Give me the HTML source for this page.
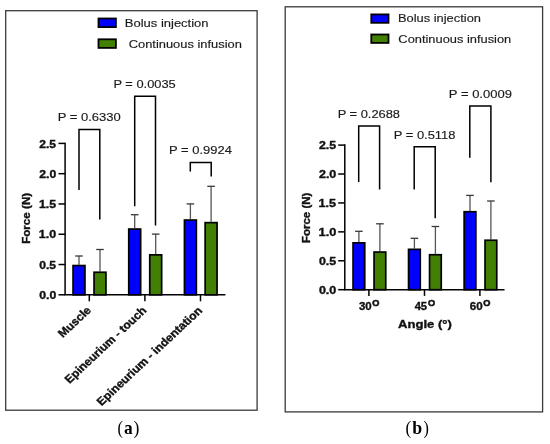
<!DOCTYPE html>
<html><head><meta charset="utf-8"><style>
html,body{margin:0;padding:0;background:#fff;}
svg{display:block;filter:blur(0.3px);}
text{font-family:"Liberation Sans",Arial,sans-serif;}
.b{stroke:#111;stroke-width:0.35px;}
.b2{stroke:#111;stroke-width:0.6px;}
.r{stroke:#1a1a1a;stroke-width:0.15px;}
.cap{font-family:"Liberation Serif",serif;}
</style></head><body>
<svg width="550" height="444" viewBox="0 0 550 444">
<rect x="0" y="0" width="550" height="444" fill="#fff"/>
<rect x="5.7" y="10.7" width="251.4" height="399.5" fill="none" stroke="#3a3a3a" stroke-width="1.3"/>
<rect x="285.2" y="6.8" width="257.4" height="405.1" fill="none" stroke="#3a3a3a" stroke-width="1.3"/>
<path d="M65.1 142.65 V294.8" stroke="#000" stroke-width="1.5" fill="none"/>
<path d="M64.35 294.8 H225.4" stroke="#000" stroke-width="1.5" fill="none"/>
<path d="M58.5 294.80 H65.1" stroke="#000" stroke-width="1.5"/>
<text x="39.21" y="299.00" font-size="10.2" font-weight="bold" textLength="16.98" lengthAdjust="spacingAndGlyphs" fill="#111"  class="b">0.0</text>
<path d="M58.5 264.52 H65.1" stroke="#000" stroke-width="1.5"/>
<text x="39.22" y="268.72" font-size="10.2" font-weight="bold" textLength="16.79" lengthAdjust="spacingAndGlyphs" fill="#111"  class="b">0.5</text>
<path d="M58.5 234.24 H65.1" stroke="#000" stroke-width="1.5"/>
<text x="38.89" y="238.44" font-size="10.2" font-weight="bold" textLength="17.31" lengthAdjust="spacingAndGlyphs" fill="#111"  class="b">1.0</text>
<path d="M58.5 203.96 H65.1" stroke="#000" stroke-width="1.5"/>
<text x="38.90" y="208.16" font-size="10.2" font-weight="bold" textLength="17.11" lengthAdjust="spacingAndGlyphs" fill="#111"  class="b">1.5</text>
<path d="M58.5 173.68 H65.1" stroke="#000" stroke-width="1.5"/>
<text x="39.27" y="177.88" font-size="10.2" font-weight="bold" textLength="16.91" lengthAdjust="spacingAndGlyphs" fill="#111"  class="b">2.0</text>
<path d="M58.5 143.40 H65.1" stroke="#000" stroke-width="1.5"/>
<text x="39.28" y="147.60" font-size="10.2" font-weight="bold" textLength="16.72" lengthAdjust="spacingAndGlyphs" fill="#111"  class="b">2.5</text>
<path d="M89.3 294.8 V301.3" stroke="#000" stroke-width="1.5"/>
<path d="M144.9 294.8 V301.3" stroke="#000" stroke-width="1.5"/>
<path d="M200.5 294.8 V301.3" stroke="#000" stroke-width="1.5"/>
<path d="M79.00 264.70 V256.00" stroke="#555" stroke-width="1.3" fill="none"/>
<path d="M75.20 256.00 H82.80" stroke="#383838" stroke-width="1.3" fill="none"/>
<rect x="73.05" y="265.55" width="11.90" height="29.25" fill="#0000ff" stroke="#000" stroke-width="1.7"/>
<path d="M100.00 271.40 V249.50" stroke="#555" stroke-width="1.3" fill="none"/>
<path d="M96.20 249.50 H103.80" stroke="#383838" stroke-width="1.3" fill="none"/>
<rect x="94.05" y="272.25" width="11.90" height="22.55" fill="#418003" stroke="#000" stroke-width="1.7"/>
<path d="M134.70 228.20 V214.70" stroke="#555" stroke-width="1.3" fill="none"/>
<path d="M130.90 214.70 H138.50" stroke="#383838" stroke-width="1.3" fill="none"/>
<rect x="128.75" y="229.05" width="11.90" height="65.75" fill="#0000ff" stroke="#000" stroke-width="1.7"/>
<path d="M155.70 254.00 V234.10" stroke="#555" stroke-width="1.3" fill="none"/>
<path d="M151.90 234.10 H159.50" stroke="#383838" stroke-width="1.3" fill="none"/>
<rect x="149.75" y="254.85" width="11.90" height="39.95" fill="#418003" stroke="#000" stroke-width="1.7"/>
<path d="M190.40 219.20 V203.90" stroke="#555" stroke-width="1.3" fill="none"/>
<path d="M186.60 203.90 H194.20" stroke="#383838" stroke-width="1.3" fill="none"/>
<rect x="184.45" y="220.05" width="11.90" height="74.75" fill="#0000ff" stroke="#000" stroke-width="1.7"/>
<path d="M211.10 221.80 V186.30" stroke="#555" stroke-width="1.3" fill="none"/>
<path d="M207.30 186.30 H214.90" stroke="#383838" stroke-width="1.3" fill="none"/>
<rect x="205.15" y="222.65" width="11.90" height="72.15" fill="#418003" stroke="#000" stroke-width="1.7"/>
<path d="M79.0 190.0 V129.5 H99.8 V219.6" stroke="#000" stroke-width="1.5" fill="none"/>
<path d="M134.7 206.3 V96.3 H155.5 V225.4" stroke="#000" stroke-width="1.5" fill="none"/>
<path d="M190.3 171.4 V162.5 H211.2 V176.5" stroke="#000" stroke-width="1.5" fill="none"/>
<text x="57.76" y="121.20" font-size="11.6" font-weight="normal" textLength="62.99" lengthAdjust="spacingAndGlyphs" fill="#1a1a1a"  class="r">P = 0.6330</text>
<text x="113.47" y="88.00" font-size="11.6" font-weight="normal" textLength="62.27" lengthAdjust="spacingAndGlyphs" fill="#1a1a1a"  class="r">P = 0.0035</text>
<text x="169.06" y="153.90" font-size="11.6" font-weight="normal" textLength="62.86" lengthAdjust="spacingAndGlyphs" fill="#1a1a1a"  class="r">P = 0.9924</text>
<rect x="98.50" y="18.50" width="17.40" height="8.60" fill="#0000ff" stroke="#000" stroke-width="1.8"/>
<text x="124.76" y="26.90" font-size="11.8" font-weight="normal" textLength="83.83" lengthAdjust="spacingAndGlyphs" fill="#1a1a1a"  class="r">Bolus injection</text>
<rect x="98.50" y="39.30" width="17.40" height="8.60" fill="#418003" stroke="#000" stroke-width="1.8"/>
<text x="128.66" y="47.80" font-size="11.8" font-weight="normal" textLength="113.27" lengthAdjust="spacingAndGlyphs" fill="#1a1a1a"  class="r">Continuous infusion</text>
<text transform="translate(30.30 243.86) rotate(-90)" x="0" y="0" font-size="10.6" font-weight="bold" textLength="51.03" lengthAdjust="spacingAndGlyphs" fill="#111" class="b">Force (N)</text>
<path d="M344.8 144.35 V289.7" stroke="#000" stroke-width="1.5" fill="none"/>
<path d="M344.05 289.7 H504.5" stroke="#000" stroke-width="1.5" fill="none"/>
<path d="M338.2 289.70 H344.8" stroke="#000" stroke-width="1.5"/>
<text x="318.90" y="293.70" font-size="10.2" font-weight="bold" textLength="17.40" lengthAdjust="spacingAndGlyphs" fill="#111"  class="b">0.0</text>
<path d="M338.2 260.78 H344.8" stroke="#000" stroke-width="1.5"/>
<text x="318.90" y="264.78" font-size="10.2" font-weight="bold" textLength="17.21" lengthAdjust="spacingAndGlyphs" fill="#111"  class="b">0.5</text>
<path d="M338.2 231.86 H344.8" stroke="#000" stroke-width="1.5"/>
<text x="318.57" y="235.86" font-size="10.2" font-weight="bold" textLength="17.74" lengthAdjust="spacingAndGlyphs" fill="#111"  class="b">1.0</text>
<path d="M338.2 202.94 H344.8" stroke="#000" stroke-width="1.5"/>
<text x="318.58" y="206.94" font-size="10.2" font-weight="bold" textLength="17.54" lengthAdjust="spacingAndGlyphs" fill="#111"  class="b">1.5</text>
<path d="M338.2 174.02 H344.8" stroke="#000" stroke-width="1.5"/>
<text x="318.96" y="178.02" font-size="10.2" font-weight="bold" textLength="17.34" lengthAdjust="spacingAndGlyphs" fill="#111"  class="b">2.0</text>
<path d="M338.2 145.10 H344.8" stroke="#000" stroke-width="1.5"/>
<text x="318.97" y="149.10" font-size="10.2" font-weight="bold" textLength="17.14" lengthAdjust="spacingAndGlyphs" fill="#111"  class="b">2.5</text>
<path d="M368.9 289.7 V295.9" stroke="#000" stroke-width="1.5"/>
<path d="M424.5 289.7 V295.9" stroke="#000" stroke-width="1.5"/>
<path d="M479.9 289.7 V295.9" stroke="#000" stroke-width="1.5"/>
<path d="M358.90 242.00 V231.30" stroke="#555" stroke-width="1.3" fill="none"/>
<path d="M355.10 231.30 H362.70" stroke="#383838" stroke-width="1.3" fill="none"/>
<rect x="353.05" y="242.85" width="11.70" height="46.85" fill="#0000ff" stroke="#000" stroke-width="1.7"/>
<path d="M379.90 251.20 V223.80" stroke="#555" stroke-width="1.3" fill="none"/>
<path d="M376.10 223.80 H383.70" stroke="#383838" stroke-width="1.3" fill="none"/>
<rect x="374.05" y="252.05" width="11.70" height="37.65" fill="#418003" stroke="#000" stroke-width="1.7"/>
<path d="M414.40 248.50 V238.30" stroke="#555" stroke-width="1.3" fill="none"/>
<path d="M410.60 238.30 H418.20" stroke="#383838" stroke-width="1.3" fill="none"/>
<rect x="408.55" y="249.35" width="11.70" height="40.35" fill="#0000ff" stroke="#000" stroke-width="1.7"/>
<path d="M435.40 253.90 V226.50" stroke="#555" stroke-width="1.3" fill="none"/>
<path d="M431.60 226.50 H439.20" stroke="#383838" stroke-width="1.3" fill="none"/>
<rect x="429.55" y="254.75" width="11.70" height="34.95" fill="#418003" stroke="#000" stroke-width="1.7"/>
<path d="M470.00 210.90 V195.40" stroke="#555" stroke-width="1.3" fill="none"/>
<path d="M466.20 195.40 H473.80" stroke="#383838" stroke-width="1.3" fill="none"/>
<rect x="464.15" y="211.75" width="11.70" height="77.95" fill="#0000ff" stroke="#000" stroke-width="1.7"/>
<path d="M490.90 239.40 V201.00" stroke="#555" stroke-width="1.3" fill="none"/>
<path d="M487.10 201.00 H494.70" stroke="#383838" stroke-width="1.3" fill="none"/>
<rect x="485.05" y="240.25" width="11.70" height="49.45" fill="#418003" stroke="#000" stroke-width="1.7"/>
<path d="M358.7 182.0 V125.9 H379.6 V189.6" stroke="#000" stroke-width="1.5" fill="none"/>
<path d="M414.2 189.6 V146.7 H435.2 V218.2" stroke="#000" stroke-width="1.5" fill="none"/>
<path d="M469.8 157.8 V105.9 H490.9 V182.2" stroke="#000" stroke-width="1.5" fill="none"/>
<text x="337.67" y="117.90" font-size="11.6" font-weight="normal" textLength="62.37" lengthAdjust="spacingAndGlyphs" fill="#1a1a1a"  class="r">P = 0.2688</text>
<text x="393.77" y="139.10" font-size="11.6" font-weight="normal" textLength="61.69" lengthAdjust="spacingAndGlyphs" fill="#1a1a1a"  class="r">P = 0.5118</text>
<text x="448.86" y="98.20" font-size="11.6" font-weight="normal" textLength="63.06" lengthAdjust="spacingAndGlyphs" fill="#1a1a1a"  class="r">P = 0.0009</text>
<rect x="371.30" y="14.40" width="17.20" height="8.40" fill="#0000ff" stroke="#000" stroke-width="1.8"/>
<text x="397.97" y="22.30" font-size="11.8" font-weight="normal" textLength="83.01" lengthAdjust="spacingAndGlyphs" fill="#1a1a1a"  class="r">Bolus injection</text>
<rect x="371.30" y="34.50" width="17.20" height="8.40" fill="#418003" stroke="#000" stroke-width="1.8"/>
<text x="398.36" y="42.50" font-size="11.8" font-weight="normal" textLength="112.86" lengthAdjust="spacingAndGlyphs" fill="#1a1a1a"  class="r">Continuous infusion</text>
<text transform="translate(310.30 242.94) rotate(-90)" x="0" y="0" font-size="10.6" font-weight="bold" textLength="50.21" lengthAdjust="spacingAndGlyphs" fill="#111" class="b">Force (N)</text>
<text transform="translate(91.50 311.20) scale(1.067 1) rotate(-45)" x="-38.04" y="0" font-size="11.2" font-weight="bold" textLength="38.44" lengthAdjust="spacingAndGlyphs" fill="#111" class="b">Muscle</text>
<text transform="translate(146.70 311.70) scale(1.067 1) rotate(-45)" x="-102.34" y="0" font-size="11.2" font-weight="bold" textLength="103.02" lengthAdjust="spacingAndGlyphs" fill="#111" class="b">Epineurium - touch</text>
<text transform="translate(202.40 311.80) scale(1.067 1) rotate(-45)" x="-133.74" y="0" font-size="11.2" font-weight="bold" textLength="134.46" lengthAdjust="spacingAndGlyphs" fill="#111" class="b">Epineurium - indentation</text>
<text x="358.91" y="309.60" font-size="11.6" font-weight="bold" textLength="12.77" lengthAdjust="spacingAndGlyphs" fill="#111"  class="b">30</text>
<text x="372.33" y="305.60" font-size="9.0" font-weight="bold" textLength="7.16" lengthAdjust="spacingAndGlyphs" fill="#111" class="b2">O</text>
<text x="414.63" y="309.60" font-size="11.6" font-weight="bold" textLength="12.47" lengthAdjust="spacingAndGlyphs" fill="#111"  class="b">45</text>
<text x="427.93" y="305.60" font-size="9.0" font-weight="bold" textLength="7.16" lengthAdjust="spacingAndGlyphs" fill="#111" class="b2">O</text>
<text x="469.79" y="309.60" font-size="11.6" font-weight="bold" textLength="12.90" lengthAdjust="spacingAndGlyphs" fill="#111"  class="b">60</text>
<text x="483.33" y="305.60" font-size="9.0" font-weight="bold" textLength="7.16" lengthAdjust="spacingAndGlyphs" fill="#111" class="b2">O</text>
<text x="397.97" y="327.70" font-size="11.0" font-weight="bold" textLength="53.94" lengthAdjust="spacingAndGlyphs" fill="#111"  class="b">Angle (°)</text>
<text x="117.56" y="433.60" font-size="18.8" font-weight="normal" textLength="5.49" lengthAdjust="spacingAndGlyphs" fill="#000" class="cap">(</text>
<text x="123.88" y="433.60" font-size="18.8" font-weight="bold" textLength="8.68" lengthAdjust="spacingAndGlyphs" fill="#000" class="cap">a</text>
<text x="133.47" y="433.60" font-size="18.8" font-weight="normal" textLength="5.89" lengthAdjust="spacingAndGlyphs" fill="#000" class="cap">)</text>
<text x="405.42" y="433.60" font-size="18.8" font-weight="normal" textLength="5.75" lengthAdjust="spacingAndGlyphs" fill="#000" class="cap">(</text>
<text x="412.23" y="433.60" font-size="18.8" font-weight="bold" textLength="9.90" lengthAdjust="spacingAndGlyphs" fill="#000" class="cap">b</text>
<text x="423.52" y="433.60" font-size="18.8" font-weight="normal" textLength="5.38" lengthAdjust="spacingAndGlyphs" fill="#000" class="cap">)</text>
</svg>
</body></html>
